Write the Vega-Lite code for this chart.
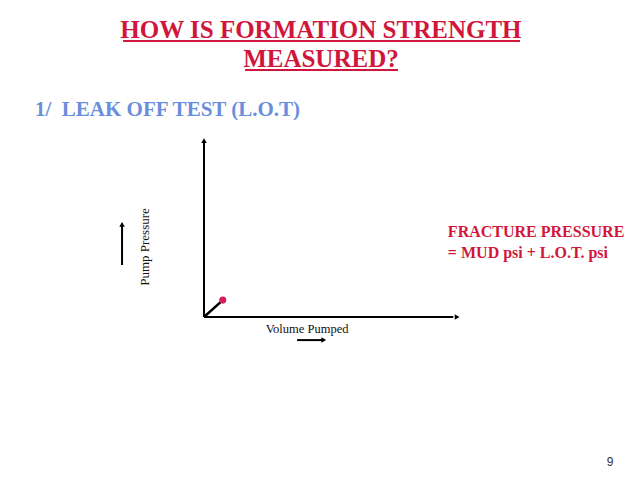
{
  "$schema": "https://vega.github.io/schema/vega-lite/v6.json",
  "width": 638,
  "height": 478,
  "padding": 0,
  "autosize": {"type": "fit", "contains": "padding"},
  "background": "white",
  "config": {"view": {"stroke": null}},
  "datasets": {
    "texts": [
      {"id": "t1", "label": "HOW IS FORMATION STRENGTH", "vx": 45.5, "py": 155.0},
      {"id": "t2", "label": "MEASURED?", "vx": 45.5, "py": 138.9}
    ],
    "sub": [
      {"label": "1/\u00a0\u00a0LEAK OFF TEST (L.O.T)", "vx": -65.8, "py": 111.7}
    ],
    "frac": [
      {"label": "FRACTURE PRESSURE", "vx": 94.9, "py": 44.4},
      {"label": "= MUD psi + L.O.T. psi", "vx": 94.9, "py": 32.8}
    ],
    "underlines": [
      {"vx": -31.5, "vx2": 123.0, "py": 153.3},
      {"vx": 16.0, "vx2": 75.5, "py": 137.2}
    ],
    "axeslines": [
      {"vx": 0, "vx2": 0, "py": 0, "py2": 97},
      {"vx": 0, "vx2": 97, "py": 0, "py2": 0},
      {"vx": -31.9, "vx2": -31.9, "py": 28.9, "py2": 51.0},
      {"vx": 36.2, "vx2": 46.0, "py": -12.8, "py2": -12.8}
    ],
    "uparrows": [
      {"vx": 0, "py": 98.0},
      {"vx": -31.9, "py": 51.5}
    ],
    "rightarrows": [
      {"vx": 98.5, "py": 0},
      {"vx": 46.6, "py": -12.8}
    ],
    "curve": [
      {"volume": 0, "pressure": 0},
      {"volume": 7.3, "pressure": 9.4}
    ],
    "dot": [
      {"volume": 7.3, "pressure": 9.4}
    ],
    "ylab": [{"label": "Pump Pressure", "vx": -23.0, "py": 38.9}],
    "xlab": [{"label": "Volume Pumped", "vx": 40.1, "py": -8.9}],
    "page": [{"label": "9", "vx": 158.0, "py": -82.8}]
  },
  "encoding": {
    "x": {"field": "vx", "type": "quantitative", "scale": {"domain": [-79.4, 168.9], "nice": false, "zero": false}, "axis": null},
    "y": {"field": "py", "type": "quantitative", "scale": {"domain": [-89.4, 176.1], "nice": false, "zero": false}, "axis": null}
  },
  "layer": [
    {
      "data": {"name": "texts"},
      "mark": {"type": "text", "font": "Liberation Serif", "fontWeight": "bold", "fontSize": 25, "color": "#D0173B", "align": "center", "baseline": "alphabetic"},
      "encoding": {"text": {"field": "label"}}
    },
    {
      "data": {"name": "underlines"},
      "mark": {"type": "rule", "color": "#D0173B", "strokeWidth": 2},
      "encoding": {"x2": {"field": "vx2"}}
    },
    {
      "data": {"name": "sub"},
      "mark": {"type": "text", "font": "Liberation Serif", "fontWeight": "bold", "fontSize": 21, "color": "#6A8EDC", "align": "left", "baseline": "alphabetic"},
      "encoding": {"text": {"field": "label"}}
    },
    {
      "data": {"name": "frac"},
      "mark": {"type": "text", "font": "Liberation Serif", "fontWeight": "bold", "fontSize": 16, "color": "#D0173B", "align": "left", "baseline": "alphabetic"},
      "encoding": {"text": {"field": "label"}}
    },
    {
      "data": {"name": "axeslines"},
      "mark": {"type": "rule", "color": "black", "strokeWidth": 2},
      "encoding": {"x2": {"field": "vx2"}, "y2": {"field": "py2"}}
    },
    {
      "data": {"name": "uparrows"},
      "mark": {"type": "point", "shape": "triangle-up", "filled": true, "color": "black", "size": 30, "opacity": 1}
    },
    {
      "data": {"name": "rightarrows"},
      "mark": {"type": "point", "shape": "triangle-right", "filled": true, "color": "black", "size": 30, "opacity": 1}
    },
    {
      "data": {"name": "curve"},
      "mark": {"type": "line", "color": "black", "strokeWidth": 2.5},
      "encoding": {"x": {"field": "volume", "type": "quantitative"}, "y": {"field": "pressure", "type": "quantitative"}}
    },
    {
      "data": {"name": "dot"},
      "mark": {"type": "point", "shape": "circle", "filled": true, "color": "#D41E55", "size": 50, "opacity": 1},
      "encoding": {"x": {"field": "volume", "type": "quantitative"}, "y": {"field": "pressure", "type": "quantitative"}}
    },
    {
      "data": {"name": "ylab"},
      "mark": {"type": "text", "font": "Liberation Serif", "fontSize": 13, "color": "#111111", "angle": 270, "align": "center", "baseline": "middle"},
      "encoding": {"text": {"field": "label"}}
    },
    {
      "data": {"name": "xlab"},
      "mark": {"type": "text", "font": "Liberation Serif", "fontSize": 12.5, "color": "#111111", "align": "center", "baseline": "alphabetic"},
      "encoding": {"text": {"field": "label"}}
    },
    {
      "data": {"name": "page"},
      "mark": {"type": "text", "font": "Liberation Sans", "fontSize": 12, "color": "#333333", "align": "center", "baseline": "alphabetic"},
      "encoding": {"text": {"field": "label"}}
    }
  ]
}
